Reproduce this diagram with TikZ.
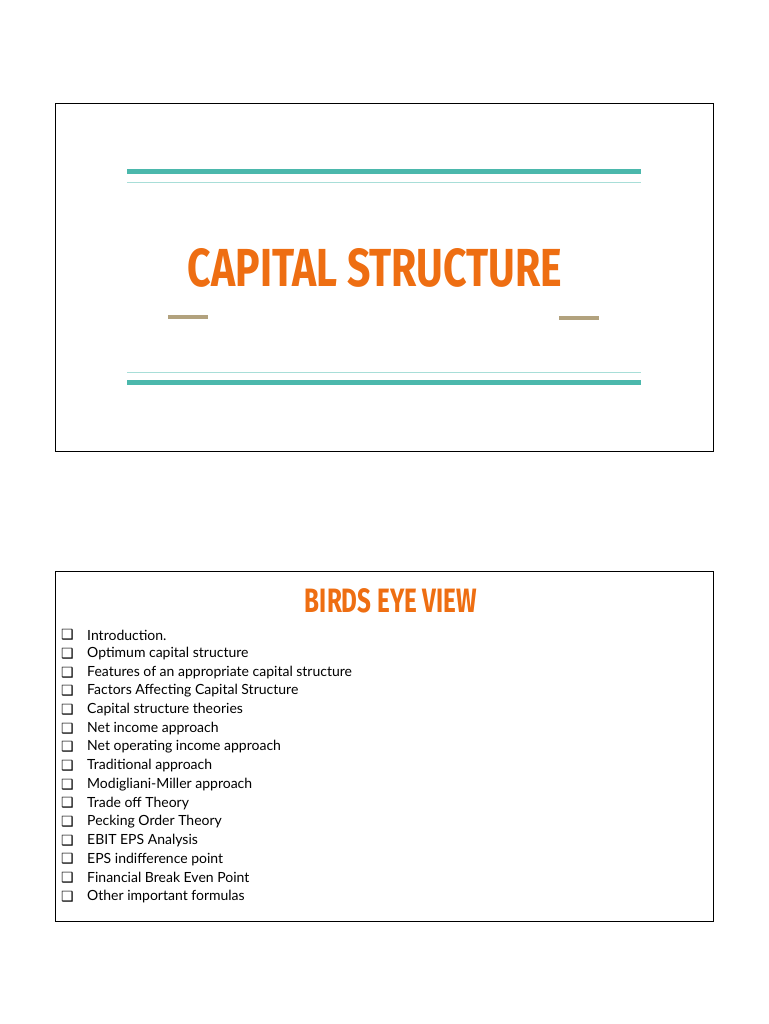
\documentclass[tikz,border=0pt]{standalone}
\usepackage{fontspec}
\setmainfont{Lato}
\newfontfamily\titlefont{Fira Sans}
\newfontfamily\symfont{DejaVu Sans}
\definecolor{teal1}{HTML}{4BB8AC}
\definecolor{teal2}{HTML}{A8DED8}
\definecolor{orng}{HTML}{EE6E12}
\definecolor{tan}{HTML}{B2A27E}
\tikzset{frame/.style={draw=black,line width=0.8pt},
thick1/.style={teal1,line width=5pt},
thin1/.style={teal2,line width=1pt},
dash1/.style={tan,line width=4pt},
item/.style={anchor=west,inner sep=0pt,font=\fontsize{14}{16}\selectfont}}
\begin{document}
\begin{tikzpicture}[x=1pt,y=-1pt]
\useasboundingbox (0,0) rectangle (768,1024);
\draw[frame] (55,103) rectangle (713,451);
\draw[thick1] (127,172) -- (641,172);
\draw[thin1] (127,183) -- (641,183);
\draw[thin1] (127,372) -- (641,372);
\draw[thick1] (127,382) -- (641,382);
\draw[dash1] (168,317) -- (208,317);
\draw[dash1] (559,318) -- (599,318);
\node (t1) at (375,268) {\resizebox{374pt}{38pt}{\color{orng}\titlefont\bfseries CAPITAL STRUCTURE}};
\draw[frame] (55,571) rectangle (713,921);
\node (t2) at (391,601) {\resizebox{172pt}{24pt}{\color{orng}\titlefont\bfseries BIRDS EYE VIEW}};
\foreach \t [count=\i from 0] in {Introduction.,Optimum capital structure,Features of an appropriate capital structure,Factors Affecting Capital Structure,Capital structure theories,Net income approach,Net operating income approach,Traditional approach,Modigliani-Miller approach,Trade off Theory,Pecking Order Theory,EBIT EPS Analysis,EPS indifference point,Financial Break Even Point,Other important formulas}{
\node[item] (b\i) at (61,635+\i*18.68) {\symfont ❑};
\node[item] (l\i) at (87,635+\i*18.68) {\t};
}
\end{tikzpicture}
\end{document}
